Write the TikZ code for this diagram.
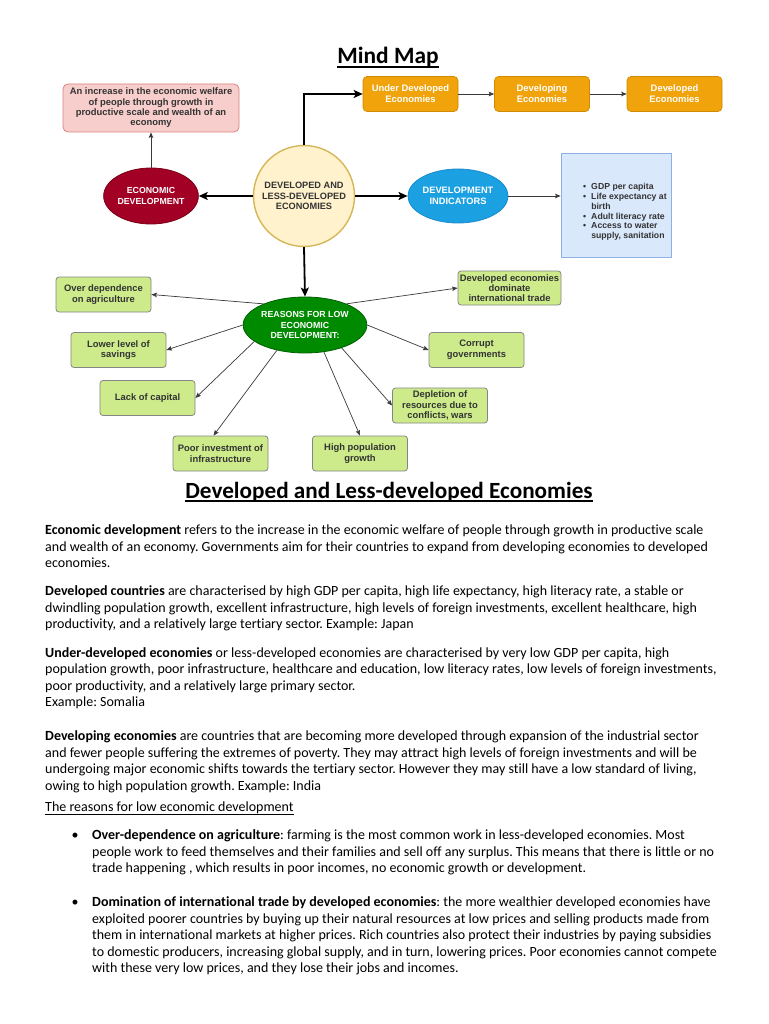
\documentclass[tikz,border=0pt]{standalone}
\usepackage{fontspec}
\setmainfont{Carlito}[Ligatures={NoCommon}]
\newfontfamily\dfont{Liberation Sans}
\usetikzlibrary{shapes.geometric,arrows.meta}
\frenchspacing
\definecolor{pinkfill}{HTML}{F8CECC}
\definecolor{pinkdraw}{HTML}{D9827E}
\definecolor{gfill}{HTML}{CDEB8B}
\definecolor{gdraw}{HTML}{858585}
\definecolor{ofill}{HTML}{F0A30A}
\definecolor{odraw}{HTML}{D08A00}
\definecolor{bfill}{HTML}{DAE8FC}
\definecolor{bdraw}{HTML}{8FB0E3}
\definecolor{efill}{HTML}{A20025}
\definecolor{edraw}{HTML}{7A0015}
\definecolor{ifill}{HTML}{1BA1E2}
\definecolor{idraw}{HTML}{1A8BCB}
\definecolor{rfill}{HTML}{008A00}
\definecolor{rdraw}{HTML}{006000}
\definecolor{cfill}{HTML}{FFF2CC}
\definecolor{cdraw}{HTML}{D6B656}
\definecolor{txtgray}{HTML}{333333}
\definecolor{arrgray}{HTML}{3A3A3A}
\begin{document}
\begin{tikzpicture}[x=1pt,y=-1pt,
  diag/.style={font=\dfont\bfseries\fontsize{9.4}{10.8}\selectfont, text=txtgray, align=center, inner sep=1pt},
  gbox/.style={diag, draw=gdraw, fill=gfill, rounded corners=3pt, minimum width=95pt, minimum height=35pt, line width=0.8pt},
  obox/.style={diag, text=white, draw=odraw, fill=ofill, rounded corners=4pt, minimum width=95pt, minimum height=35pt, line width=0.6pt},
  oval/.style={diag, ellipse, text=white, inner sep=0pt, line width=0.8pt, font=\dfont\bfseries\fontsize{8.8}{10.4}\selectfont},
  thickarr/.style={-{Stealth[length=9pt,width=8pt,inset=2pt]}, line width=1.8pt, draw=black},
  thinarr/.style={-{Stealth[length=5.5pt,width=4.5pt,inset=1pt]}, line width=0.7pt, draw=arrgray},
  body/.style={font=\fontsize{14}{16}\selectfont, inner sep=0pt, anchor=base west},
  ttl/.style={font=\bfseries\fontsize{23.4}{28}\selectfont, inner sep=0pt, anchor=base}
]
\useasboundingbox (0,0) rectangle (768,1024);
\fill[white] (0,0) rectangle (768,1024);

% ---------- Mind map ----------
\node[ttl] (t1) at (388,64) {Mind Map};
\draw[line width=1.4pt] ([yshift=-3pt]t1.base west) -- ([yshift=-3pt]t1.base east);

\node[diag, draw=pinkdraw, fill=pinkfill, rounded corners=5pt, minimum width=176pt, minimum height=48pt, line width=0.8pt, font=\dfont\bfseries\fontsize{9.4}{10.3}\selectfont] (pink) at (151,108)
  {An increase in the economic welfare\\of people through growth in\\productive scale and wealth of an\\economy};

\node[oval, fill=efill, draw=edraw, minimum width=88pt, minimum height=56pt] (econ) at (151,196) {ECONOMIC\\DEVELOPMENT};
\node[diag, circle, fill=cfill, draw=cdraw, line width=1.4pt, minimum size=101pt, inner sep=0pt, font=\dfont\bfseries\fontsize{9.2}{10.6}\selectfont] (cent) at (304,196)
  {DEVELOPED AND\\LESS-DEVELOPED\\ECONOMIES};

\node[obox] (under) at (410.5,94) {Under Developed\\Economies};
\node[obox] (devl) at (542,94) {Developing\\Economies};
\node[obox] (devd) at (674.5,94) {Developed\\Economies};

\node[oval, fill=ifill, draw=idraw, minimum width=89pt, minimum height=54pt, font=\dfont\bfseries\fontsize{9.3}{10.6}\selectfont] (indic) at (458,196) {DEVELOPMENT\\INDICATORS};
\node[draw=bdraw, fill=bfill, line width=0.8pt, minimum width=110pt, minimum height=104pt, inner sep=0pt] (blue) at (616,205) {};
\node[anchor=north west, inner sep=0pt, font=\dfont\bfseries\fontsize{8.7}{9.7}\selectfont, text=txtgray] (ilist) at (583,183)
  {\begin{tabular}{@{}l@{\hspace{5pt}}l@{}}
  \textbullet & GDP per capita\\
  \textbullet & Life expectancy at\\
   & birth\\
  \textbullet & Adult literacy rate\\
  \textbullet & Access to water\\
   & supply, sanitation
  \end{tabular}};

\node[oval, fill=rfill, draw=rdraw, minimum width=103pt, minimum height=56pt] (reas) at (305,325) {REASONS FOR LOW\\ECONOMIC\\DEVELOPMENT:};

\node[gbox] (b1) at (103.5,294.5) {Over dependence\\on agriculture};
\node[gbox] (b2) at (118.5,350) {Lower level of\\savings};
\node[gbox] (b3) at (147.5,398) {Lack of capital};
\node[gbox] (b4) at (220.5,453.5) {Poor investment of\\infrastructure};
\node[gbox] (b5) at (360,453.5) {High population\\growth};
\node[gbox, font=\dfont\bfseries\fontsize{9.4}{10.3}\selectfont] (b6) at (440,405.5) {Depletion of\\resources due to\\conflicts, wars};
\node[gbox] (b7) at (476.5,350) {Corrupt\\governments};
\node[gbox, minimum width=103pt, minimum height=34pt, font=\dfont\bfseries\fontsize{9.4}{10.3}\selectfont] (b8) at (509.5,288) {Developed economies\\dominate\\international trade};

% connectors
\draw[thickarr] (cent.north) |- (under.west);
\draw[thickarr] (cent.west) -- (econ.east);
\draw[thickarr] (cent.east) -- (indic.west);
\draw[thickarr] (cent.south) -- (reas.north);
\draw[thinarr] (econ.north) -- (pink.south);
\draw[thinarr] (under.east) -- (devl.west);
\draw[thinarr] (devl.east) -- (devd.west);
\draw[thinarr] (indic.east) -- (indic.east -| blue.west);
\draw[thinarr] (reas.153) -- (b1.east);
\draw[thinarr] (reas.180) -- (b2.east);
\draw[thinarr] (reas.198) -- (b3.east);
\draw[thinarr] (reas.222) -- ([xshift=-7pt]b4.north);
\draw[thinarr] (reas.305) -- (b5.north);
\draw[thinarr] (reas.328) -- (b6.west);
\draw[thinarr] (reas.0) -- (b7.west);
\draw[thinarr] (reas.27) -- (b8.west);

% ---------- Text part ----------
\node[ttl, font=\bfseries\fontsize{23.2}{28}\selectfont] (t2) at (389,498) {Developed and Less-developed Economies};
\draw[line width=1.4pt] ([yshift=-3pt]t2.base west) -- ([yshift=-3pt]t2.base east);

\node[body] (p1a) at (45,534.5) {\textbf{Economic development} refers to the increase in the economic welfare of people through growth in productive scale};
\node[body] (p1b) at (45,551) {and wealth of an economy. Governments aim for their countries to expand from developing economies to developed};
\node[body] (p1c) at (45,567.5) {economies.};

\node[body] (p2a) at (45,595.5) {\textbf{Developed countries} are characterised by high GDP per capita, high life expectancy, high literacy rate, a stable or};
\node[body] (p2b) at (45,612) {dwindling population growth, excellent infrastructure, high levels of foreign investments, excellent healthcare, high};
\node[body] (p2c) at (45,628.5) {productivity, and a relatively large tertiary sector. Example: Japan};

\node[body] (p3a) at (45,657) {\textbf{Under-developed economies} or less-developed economies are characterised by very low GDP per capita, high};
\node[body] (p3b) at (45,673.5) {population growth, poor infrastructure, healthcare and education, low literacy rates, low levels of foreign investments,};
\node[body] (p3c) at (45,690) {poor productivity, and a relatively large primary sector.};
\node[body] (p3d) at (45,706.5) {Example: Somalia};

\node[body] (p4a) at (45,740.5) {\textbf{Developing economies} are countries that are becoming more developed through expansion of the industrial sector};
\node[body] (p4b) at (45,757) {and fewer people suffering the extremes of poverty. They may attract high levels of foreign investments and will be};
\node[body] (p4c) at (45,773.5) {undergoing major economic shifts towards the tertiary sector. However they may still have a low standard of living,};
\node[body] (p4d) at (45,790) {owing to high population growth. Example: India};

\node[body] (h1) at (45,811.5) {The reasons for low economic development};
\draw[line width=0.8pt] ([yshift=-2.5pt]h1.base west) -- ([yshift=-2.5pt]h1.base east);

\node[body, anchor=base] (bu1) at (75,839.5) {\textbullet};
\node[body] (q1a) at (92,839.5) {\textbf{Over-dependence on agriculture}: farming is the most common work in less-developed economies. Most};
\node[body] (q1b) at (92,856) {people work to feed themselves and their families and sell off any surplus. This means that there is little or no};
\node[body] (q1c) at (92,872.5) {trade happening , which results in poor incomes, no economic growth or development.};

\node[body, anchor=base] (bu2) at (75,906.5) {\textbullet};
\node[body] (q2a) at (92,906.5) {\textbf{Domination of international trade by developed economies}: the more wealthier developed economies have};
\node[body] (q2b) at (92,923) {exploited poorer countries by buying up their natural resources at low prices and selling products made from};
\node[body] (q2c) at (92,939.5) {them in international markets at higher prices. Rich countries also protect their industries by paying subsidies};
\node[body] (q2d) at (92,956) {to domestic producers, increasing global supply, and in turn, lowering prices. Poor economies cannot compete};
\node[body] (q2e) at (92,972.5) {with these very low prices, and they lose their jobs and incomes.};
\end{tikzpicture}
\end{document}
